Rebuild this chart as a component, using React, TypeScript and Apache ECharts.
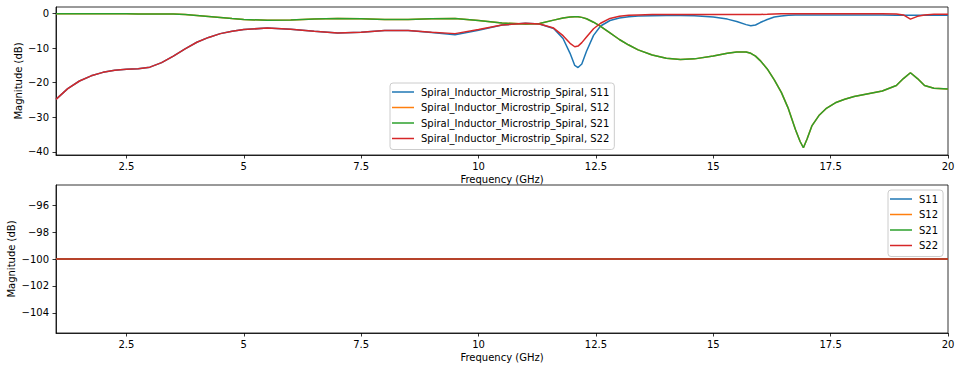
import React, { useEffect, useRef } from "react";
import * as echarts from "echarts";

const freq = [
  1.0, 1.25, 1.5, 1.75, 2.0, 2.25, 2.5, 2.75, 3.0, 3.25, 3.5, 3.75, 4.0, 4.25, 4.5, 4.75,
  5.0, 5.5, 6.0, 6.5, 7.0, 7.5, 8.0, 8.5, 9.0, 9.5, 10.0, 10.5, 11.0, 11.3, 11.6, 11.8,
  11.95, 12.05, 12.12, 12.2, 12.3, 12.45, 12.6, 12.8, 13.0, 13.2, 13.4, 13.7, 14.0, 14.3,
  14.6, 15.0, 15.3, 15.5, 15.7, 15.8, 15.9, 16.0, 16.15, 16.3, 16.45, 16.6, 16.75, 16.85,
  16.92, 17.0, 17.1, 17.25, 17.4, 17.6, 17.8, 18.0, 18.3, 18.6, 18.9, 19.05, 19.2, 19.35,
  19.5, 19.7, 20.0,
];

const s11 = [
  -24.8, -21.7, -19.5, -18.0, -17.0, -16.4, -16.1, -15.95, -15.5, -14.2, -12.3, -10.2, -8.3, -6.9, -5.8, -5.1,
  -4.6, -4.2, -4.5, -5.1, -5.6, -5.4, -4.9, -4.9, -5.5, -6.1, -4.8, -3.3, -2.8, -3.0, -4.3, -7.2,
  -11.5, -15.0, -15.6, -14.6, -10.9, -6.3, -3.6, -2.0, -1.3, -0.9, -0.7, -0.6, -0.55, -0.55,
  -0.65, -1.0, -1.6, -2.3, -3.2, -3.5, -3.3, -2.6, -1.7, -1.0, -0.7, -0.5, -0.4, -0.4,
  -0.4, -0.4, -0.4, -0.4, -0.4, -0.4, -0.4, -0.4, -0.4, -0.4, -0.45, -0.45, -0.45, -0.5,
  -0.5, -0.5, -0.5,
];

const s22 = [
  -24.8, -21.7, -19.5, -18.0, -17.0, -16.4, -16.1, -15.95, -15.5, -14.2, -12.3, -10.2, -8.3, -6.9, -5.8, -5.1,
  -4.6, -4.2, -4.5, -5.1, -5.6, -5.4, -4.9, -4.9, -5.4, -5.8, -4.6, -3.3, -2.8, -3.0, -4.2, -6.4,
  -8.6, -9.6, -9.4, -8.4, -6.8, -4.4, -2.8, -1.4, -0.8, -0.5, -0.4, -0.3, -0.3, -0.3,
  -0.3, -0.3, -0.3, -0.3, -0.3, -0.3, -0.3, -0.25, -0.2, -0.1, -0.05, -0.05, -0.05, -0.05,
  -0.05, -0.05, -0.05, -0.05, -0.05, -0.05, -0.05, -0.05, -0.05, -0.05, -0.1, -0.4, -1.6, -0.8,
  -0.4, -0.2, -0.2,
];

const s21 = [
  -0.05, -0.05, -0.05, -0.06, -0.07, -0.08, -0.08, -0.09, -0.1, -0.1, -0.15, -0.3, -0.55, -0.85, -1.15, -1.45,
  -1.7, -1.95, -1.85, -1.55, -1.4, -1.5, -1.7, -1.75, -1.5, -1.4, -2.0, -2.75, -3.05, -2.9, -1.9, -1.3,
  -1.0, -0.9, -0.9, -1.1, -1.5, -2.5, -3.7, -5.6, -7.5, -9.1, -10.5, -12.0, -12.9, -13.3,
  -13.1, -12.3, -11.5, -11.1, -11.1, -11.5, -12.3, -13.6, -16.0, -19.2, -22.8, -27.5, -33.5, -37.0,
  -38.8, -36.2, -32.5, -29.5, -27.5, -25.8, -24.8, -24.0, -23.2, -22.4, -20.8, -18.8, -17.1, -18.8,
  -20.8, -21.6, -21.8,
];

const s12 = s21;

const bottomFreq = [1.0, 20.0];
const bottomS11 = [-100, -100];
const bottomS12 = [-100, -100];
const bottomS21 = [-100, -100];
const bottomS22 = [-100, -100];

const xTicks = [2.5, 5, 7.5, 10, 12.5, 15, 17.5, 20];
const yTicksTop = [0, -10, -20, -30, -40];
const yTicksBottom = [-96, -98, -100, -102, -104];

const topNames = [
  "Spiral_Inductor_Microstrip_Spiral, S11",
  "Spiral_Inductor_Microstrip_Spiral, S12",
  "Spiral_Inductor_Microstrip_Spiral, S21",
  "Spiral_Inductor_Microstrip_Spiral, S22",
];
const bottomNames = ["S11", "S12", "S21", "S22"];
const colors = ["#1f77b4", "#ff7f0e", "#2ca02c", "#d62728"];

const FONT = "DejaVu Sans";

function pairs(xs: number[], ys: number[]) {
  return xs.map((x, i) => [x, ys[i]]);
}

function xAxisDef(gridIndex: number) {
  return {
    type: "value",
    gridIndex,
    min: 1,
    max: 20,
    name: "Frequency (GHz)",
    nameLocation: "middle",
    nameGap: 19,
    nameMoveOverlap: false,
    nameTextStyle: { fontFamily: FONT, fontSize: 10, color: "#000" },
    axisLine: { show: true, onZero: false, lineStyle: { color: "#000", width: 0.8 } },
    axisTick: { show: true, length: 3.5, customValues: xTicks, lineStyle: { color: "#000", width: 0.8 } },
    axisLabel: {
      customValues: xTicks,
      margin: 6,
      fontFamily: FONT,
      fontSize: 10,
      color: "#000",
      formatter: (v: number) => String(v),
    },
    splitLine: { show: false },
  };
}

function yAxisDef(gridIndex: number, min: number, max: number, ticks: number[], nameGap: number) {
  return {
    type: "value",
    gridIndex,
    min,
    max,
    name: "Magnitude (dB)",
    nameLocation: "middle",
    nameGap,
    nameRotate: 90,
    nameMoveOverlap: false,
    nameTextStyle: { fontFamily: FONT, fontSize: 10, color: "#000" },
    axisLine: { show: true, onZero: false, lineStyle: { color: "#000", width: 0.8 } },
    axisTick: { show: true, length: 3.5, customValues: ticks, lineStyle: { color: "#000", width: 0.8 } },
    axisLabel: {
      customValues: ticks,
      margin: 7,
      fontFamily: FONT,
      fontSize: 10,
      color: "#000",
      formatter: (v: number) => String(v).replace("-", "\u2212"),
    },
    splitLine: { show: false },
  };
}

function legendDef(names: string[], left: number, top: number) {
  return {
    data: names,
    orient: "vertical",
    left,
    top,
    icon: "rect",
    itemWidth: 22,
    itemHeight: 1.5,
    itemGap: 3.5,
    padding: [3, 5, 5, 2],
    borderColor: "#cccccc",
    borderWidth: 1,
    borderRadius: 3,
    backgroundColor: "rgba(255,255,255,0.8)",
    selectedMode: false,
    textStyle: { fontFamily: FONT, fontSize: 10, color: "#000", lineHeight: 12, padding: [0, 0, 0, 2] },
  };
}

export default function App() {
  const ref = useRef<HTMLDivElement>(null);

  useEffect(() => {
    if (!ref.current) return;
    const chart = echarts.init(ref.current, null, { renderer: "svg" });
    const topData = [s11, s12, s21, s22];
    const bottomData = [bottomS11, bottomS12, bottomS21, bottomS22];
    const series: any[] = [];
    topData.forEach((ys, i) => {
      series.push({
        type: "line",
        name: topNames[i],
        xAxisIndex: 0,
        yAxisIndex: 0,
        data: pairs(freq, ys),
        symbol: "none",
        showSymbol: false,
        lineStyle: { color: colors[i], width: 1.5 },
        itemStyle: { color: colors[i] },
      });
    });
    bottomData.forEach((ys, i) => {
      series.push({
        type: "line",
        name: bottomNames[i],
        xAxisIndex: 1,
        yAxisIndex: 1,
        data: pairs(bottomFreq, ys),
        symbol: "none",
        showSymbol: false,
        lineStyle: { color: colors[i], width: 1.5 },
        itemStyle: { color: colors[i] },
      });
    });

    chart.setOption({
      animation: false,
      backgroundColor: "#fff",
      grid: [
        { left: 56, right: 13, top: 7, height: 148, show: true, borderColor: "#000", borderWidth: 0.8, backgroundColor: "transparent", outerBoundsMode: "none" },
        { left: 56, right: 13, top: 185, height: 148, show: true, borderColor: "#000", borderWidth: 0.8, backgroundColor: "transparent", outerBoundsMode: "none" },
      ],
      xAxis: [xAxisDef(0), xAxisDef(1)],
      yAxis: [
        yAxisDef(0, -40.9, 1.9, yTicksTop, 33),
        yAxisDef(1, -105.5, -94.5, yTicksBottom, 40),
      ],
      legend: [legendDef(topNames, 390, 83), legendDef(bottomNames, 888, 190)],
      series,
    });
    return () => chart.dispose();
  }, []);

  return (
    <div
      ref={ref}
      style={{ position: "fixed", left: 0, top: 0, width: 961, height: 371 }}
    />
  );
}
